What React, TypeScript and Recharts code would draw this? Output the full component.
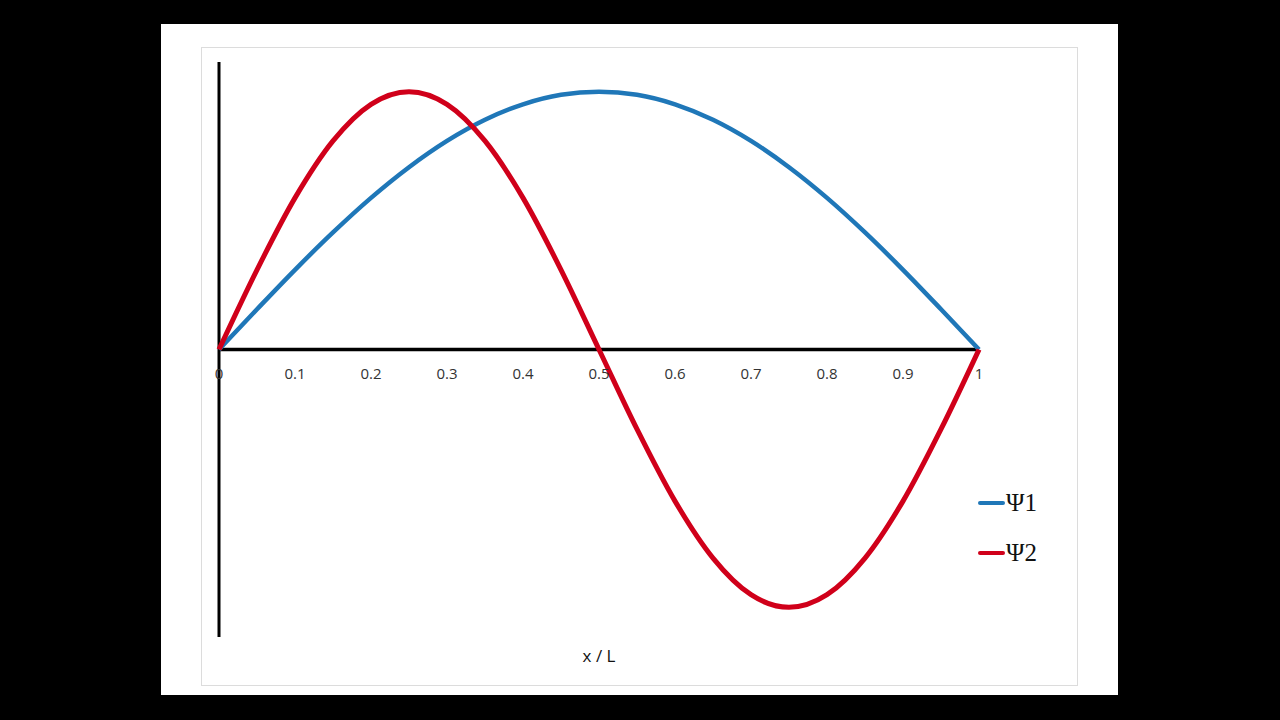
import { LineChart, Line, XAxis, YAxis, ReferenceLine } from "recharts";

// x / L positions and the two wave functions
const xValues = [0, 0.05, 0.1, 0.15, 0.2, 0.25, 0.3, 0.35, 0.4, 0.45, 0.5, 0.55, 0.6, 0.65, 0.7, 0.75, 0.8, 0.85, 0.9, 0.95, 1];
const psi1 = [0, 0.156, 0.309, 0.454, 0.588, 0.707, 0.809, 0.891, 0.951, 0.988, 1, 0.988, 0.951, 0.891, 0.809, 0.707, 0.588, 0.454, 0.309, 0.156, 0];
const psi2 = [0, 0.309, 0.588, 0.809, 0.951, 1, 0.951, 0.809, 0.588, 0.309, 0, -0.309, -0.588, -0.809, -0.951, -1, -0.951, -0.809, -0.588, -0.309, 0];
const xTicks = [0, 0.1, 0.2, 0.3, 0.4, 0.5, 0.6, 0.7, 0.8, 0.9, 1];
const seriesNames = ["Ψ1", "Ψ2"];

const BLUE = "#1f77b8";
const RED = "#d0001a";

const data = xValues.map((x, i) => ({ x, psi1: psi1[i], psi2: psi2[i] }));

const PLOT_H = 575;

function XTick(props: any) {
  const { x, y, payload } = props;
  // labels sit just under the zero line, not at the plot bottom
  return (
    <text
      x={x}
      y={y - PLOT_H / 2 + 21}
      textAnchor="middle"
      fill="#333"
      fontSize={15}
      fontFamily="'Open Sans', sans-serif"
    >
      {payload.value}
    </text>
  );
}

function LegendBox() {
  const colors = [BLUE, RED];
  return (
    <div style={{ position: "absolute", left: 978, top: 478 }}>
      {seriesNames.map((name, i) => (
        <div key={name} style={{ display: "flex", alignItems: "center", height: 50 }}>
          <div style={{ width: 27, height: 4, borderRadius: 2, background: colors[i] }} />
          <span
            style={{
              fontFamily: "'Liberation Serif', serif",
              fontSize: 25,
              color: "#111",
              marginLeft: 1,
            }}
          >
            {name}
          </span>
        </div>
      ))}
    </div>
  );
}

export default function App() {
  return (
    <div style={{ position: "fixed", inset: 0, width: 1280, height: 720, background: "#000" }}>
      <div style={{ position: "absolute", left: 161, top: 24, width: 957, height: 671, background: "#fff" }} />
      <div
        style={{
          position: "absolute",
          left: 201,
          top: 47,
          width: 875,
          height: 637,
          border: "1px solid #dcdcdc",
        }}
      />
      <div style={{ position: "absolute", left: 0, top: 0 }}>
        <LineChart
          width={1280}
          height={720}
          data={data}
          margin={{ top: 62, right: 301, bottom: 43, left: 219 }}
        >
          <XAxis
            dataKey="x"
            type="number"
            domain={[0, 1]}
            ticks={xTicks}
            axisLine={false}
            tickLine={false}
            tick={<XTick />}
            height={40}
            label={{
              value: "x / L",
              position: "insideTop",
              offset: 13,
              fill: "#111",
              fontSize: 17,
              fontFamily: "'Open Sans', sans-serif",
            }}
          />
          <YAxis hide domain={[-1.115, 1.115]} width={0} />
          <ReferenceLine y={0} stroke="#000" strokeWidth={3.5} />
          <ReferenceLine x={0} stroke="#000" strokeWidth={3} />
          <Line
            type="monotone"
            dataKey="psi1"
            name={seriesNames[0]}
            stroke={BLUE}
            strokeWidth={4.5}
            dot={false}
            isAnimationActive={false}
          />
          <Line
            type="monotone"
            dataKey="psi2"
            name={seriesNames[1]}
            stroke={RED}
            strokeWidth={5}
            dot={false}
            isAnimationActive={false}
          />
        </LineChart>
      </div>
      <LegendBox />
    </div>
  );
}
